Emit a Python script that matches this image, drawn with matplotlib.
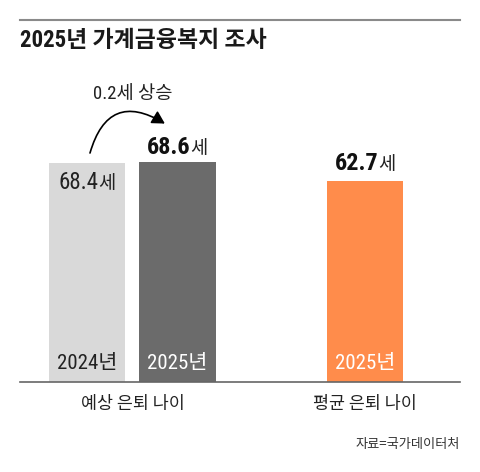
import matplotlib
matplotlib.use("Agg")
import matplotlib.pyplot as plt
from matplotlib.lines import Line2D

# ---- data ----
title = "2025년 가계금융복지 조사"
groups = ["예상 은퇴 나이", "평균 은퇴 나이"]
bar_years = ["2024년", "2025년", "2025년"]
values = [68.4, 68.6, 62.7]
value_units = ["세", "세", "세"]
change_label = "0.2세 상승"
source = "자료=국가데이터처"

# ---- style ----
FAM = ["Roboto Condensed", "Barlow Condensed", "Noto Sans CJK KR", "DejaVu Sans"]
KFAM = ["Noto Sans CJK KR", "DejaVu Sans"]
plt.rcParams["font.family"] = FAM
colors = ["#d9d9d9", "#6b6b6b", "#ff8c4b"]
year_colors = ["#222222", "#ffffff", "#ffffff"]
positions = [0.0, 1.0, 3.082]
group_pos = [0.5, 3.082]
width = 0.843

fig = plt.figure(figsize=(4.8, 4.72), dpi=100)
ax = fig.add_axes([20 / 480, 1 - 381.5 / 472, 440 / 480, 321.5 / 472])
ax.set_xlim(-0.746, 4.132)
ax.set_ylim(0, 321.5 / 3.2)

ax.bar(positions, values, width=width, color=colors, zorder=2)

for s in ["top", "right", "left"]:
    ax.spines[s].set_visible(False)
ax.spines["bottom"].set_color("#666666")
ax.spines["bottom"].set_linewidth(1.2)
ax.set_yticks([])
ax.set_xticks(group_pos)
ax.set_xticklabels(groups, fontsize=12.5, color="#222222", family=KFAM)
ax.tick_params(axis="x", length=0, pad=10)

renderer = fig.canvas.get_renderer()


def measure(s, **kw):
    t = ax.text(0, 0, s, **kw)
    w = t.get_window_extent(renderer).width
    t.remove()
    return w


def two_part(x, y, num, unit, num_kw, unit_kw, dy=0, gap=0.0):
    w1 = measure(num, **num_kw)
    w2 = measure(unit, **unit_kw)
    W = w1 + w2 + gap
    ax.annotate(num, xy=(x, y), xytext=(-W / 2, dy), textcoords="offset pixels",
                ha="left", va="baseline", **num_kw)
    ax.annotate(unit, xy=(x, y), xytext=(-W / 2 + w1 + gap, dy), textcoords="offset pixels",
                ha="left", va="baseline", **unit_kw)


# value labels
two_part(positions[0], values[0] - 8.3, f"{values[0]}", value_units[0],
         dict(fontsize=16.5, color="#222222"),
         dict(fontsize=13.5, color="#222222", family=KFAM))
two_part(positions[1], values[1], f"{values[1]}", value_units[1],
         dict(fontsize=17.5, fontweight="bold", color="#111111"),
         dict(fontsize=13.5, color="#222222", family=KFAM), dy=8)
two_part(positions[2], values[2], f"{values[2]}", value_units[2],
         dict(fontsize=17.5, fontweight="bold", color="#111111"),
         dict(fontsize=13.5, color="#222222", family=KFAM), dy=11)

# year labels inside bars
for p, yr, c in zip(positions, bar_years, year_colors):
    ax.annotate(yr, xy=(p, 0), xytext=(0, 13), textcoords="offset pixels",
                ha="center", va="baseline", fontsize=15, color=c)

# change annotation
ax.text(group_pos[0], values[1] + 19.6, change_label, ha="center", va="baseline",
        fontsize=13.5, color="#222222")
ax.annotate("", xy=(positions[1] - 0.14, values[1] + 12.0),
            xytext=(positions[0] + 0.03, values[0] + 3.0),
            arrowprops=dict(arrowstyle="-|>,head_length=0.75,head_width=0.42",
                            connectionstyle="arc3,rad=-0.65", lw=1.2,
                            color="#000000", shrinkA=0, shrinkB=0))

# title, rule, source
fig.add_artist(Line2D([20 / 480, 460 / 480], [1 - 19.5 / 472] * 2,
                      color="#8a8a8a", lw=1.5))
fig.text(20 / 480, 1 - 47 / 472, title, ha="left", va="baseline",
         fontsize=16.5, fontweight="bold", color="#1a1a1a")
fig.text(460 / 480, 1 - 448 / 472, source, ha="right", va="baseline",
         fontsize=9.5, color="#333333", family=KFAM)

fig.savefig("out.png", dpi=100)
